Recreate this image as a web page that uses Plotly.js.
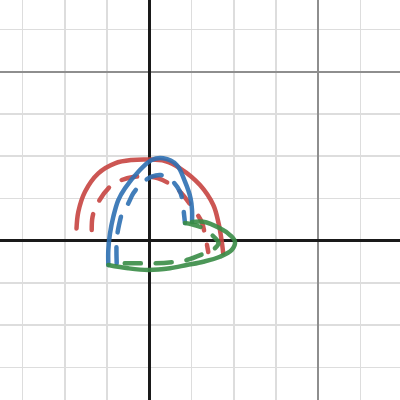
<!DOCTYPE html>
<html>
<head>
<meta charset="utf-8">
<script src="https://cdn.plot.ly/plotly-3.0.1.min.js"></script>
<style>
  html, body { margin: 0; padding: 0; background: #fff; }
  #graph { width: 400px; height: 400px; }
</style>
</head>
<body>
<div id="graph"></div>
<script>
// points, in grid units (1 unit = one minor grid square)
var redX = [-1.723, -1.680, -1.522, -1.207, -0.812, -0.417, -0.024, 0.372, 0.727, 1.200, 1.515, 1.640, 1.710, 1.750];
var redY = [0.289, 0.686, 1.160, 1.595, 1.832, 1.910, 1.922, 1.886, 1.714, 1.318, 0.845, 0.412, 0.017, -0.300];

var redDashX = [-1.363, -1.344, -1.245, -0.930, -0.653, -0.386, -0.102, 0.213, 0.686, 1.004, 1.240, 1.318, 1.396];
var redDashY = [0.253, 0.561, 0.845, 1.278, 1.437, 1.508, 1.515, 1.477, 1.200, 0.805, 0.443, 0.135, -0.267];

var blueX = [-0.970, -0.970, -0.930, -0.852, -0.734, -0.575, -0.260, 0.057, 0.331, 0.649, 0.845, 0.975, 1.011, 1.011];
var blueY = [-0.575, -0.220, 0.175, 0.568, 0.963, 1.240, 1.633, 1.910, 1.950, 1.792, 1.396, 1.011, 0.727, 0.443];

var blueDashX = [-0.772, -0.772, -0.717, -0.622, -0.497, -0.379, -0.173, 0.057, 0.265, 0.514, 0.727, 0.798, 0.821, 0.845];
var blueDashY = [-0.535, 0.017, 0.372, 0.703, 0.885, 1.122, 1.366, 1.515, 1.555, 1.437, 1.160, 0.845, 0.632, 0.419];

var greenX = [1.011, 1.278, 1.673, 1.910, 2.028, 1.950, 1.673, 1.278, 0.885, 0.490, -0.024, -0.497, -0.970];
var greenY = [0.443, 0.450, 0.293, 0.135, -0.024, -0.220, -0.379, -0.497, -0.575, -0.653, -0.693, -0.653, -0.575];

var greenDashX = [0.845, 1.004, 1.278, 1.508, 1.638, 1.531, 1.359, 0.885, 0.568, 0.017, -0.260, -0.772];
var greenDashY = [0.419, 0.388, 0.293, 0.111, -0.054, -0.196, -0.279, -0.457, -0.504, -0.540, -0.535, -0.535];

var RED = '#c74440', BLUE = '#2d70b3', GREEN = '#388c46';

function curve(x, y, color, dashed) {
  return {
    x: x,
    y: y,
    type: 'scatter',
    mode: 'lines',
    hoverinfo: 'skip',
    opacity: 0.9,
    line: { color: color, width: 4.5, shape: 'spline', smoothing: 1, dash: dashed ? '16px,15px' : 'solid' }
  };
}

var data = [
  curve(redX, redY, RED, false),
  curve(redDashX, redDashY, RED, true),
  curve(blueX, blueY, BLUE, false),
  curve(blueDashX, blueDashY, BLUE, true),
  curve(greenX, greenY, GREEN, false),
  curve(greenDashX, greenDashY, GREEN, true)
];

function axis(range) {
  return {
    range: range,
    dtick: 4,
    tick0: 0,
    showgrid: true,
    gridcolor: '#8e8e8e',
    gridwidth: 1.6,
    minor: { dtick: 1, tick0: 0, showgrid: true, gridcolor: '#dddddd', gridwidth: 1.5 },
    zeroline: true,
    zerolinecolor: '#1a1a1a',
    zerolinewidth: 2.7,
    showticklabels: false,
    ticks: '',
    showline: false,
    fixedrange: true
  };
}

var layout = {
  width: 400,
  height: 400,
  margin: { l: 0, r: 0, t: 0, b: 0 },
  paper_bgcolor: '#fff',
  plot_bgcolor: '#fff',
  showlegend: false,
  xaxis: axis([-3.534, 5.934]),
  yaxis: axis([-3.770, 5.697])
};

Plotly.newPlot('graph', data, layout, { staticPlot: true }).then(function (gd) {
  // round ends like the original pen strokes
  gd.querySelectorAll('.scatterlayer path.js-line').forEach(function (p) {
    p.style.strokeLinecap = 'round';
    p.style.strokeLinejoin = 'round';
  });
});
</script>
</body>
</html>
